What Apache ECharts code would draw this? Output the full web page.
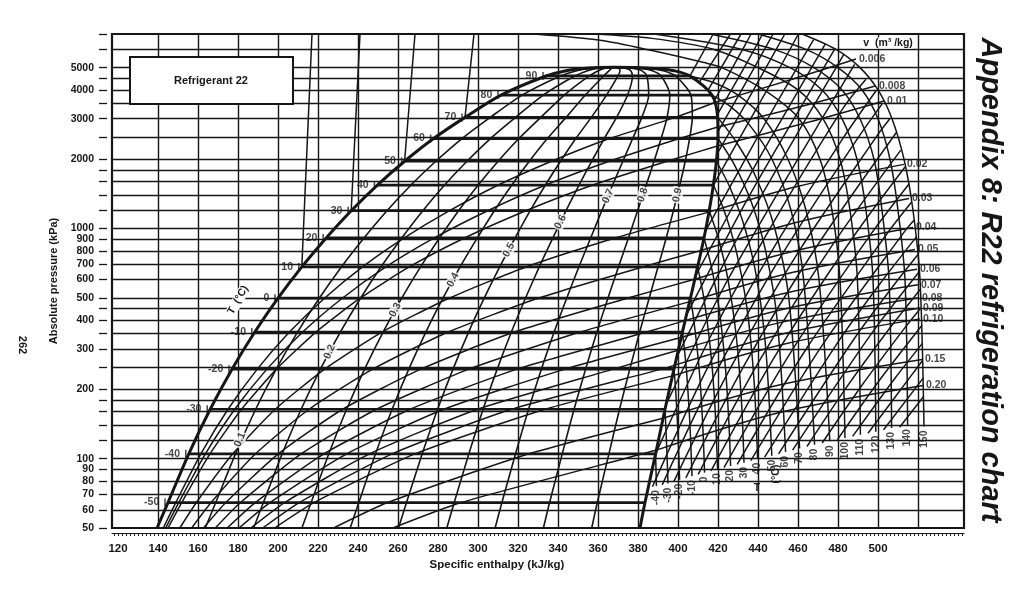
<!DOCTYPE html>
<html>
<head>
<meta charset="utf-8">
<script src="https://cdn.jsdelivr.net/npm/echarts@6/dist/echarts.min.js"></script>
<style>
html, body { margin: 0; padding: 0; background: #fff; }
#main { width: 1024px; height: 600px; }
</style>
</head>
<body>
<div id="main"></div>
<script>
// saturation table
var satT  = [-54.6, -50, -40, -30, -20, -10, 0, 10, 20, 30, 40, 50, 60, 70, 80, 90, 93, 95, 96];
var satP  = [50, 64.5, 105, 164, 245, 355, 498, 681, 910, 1195, 1545, 1960, 2460, 3040, 3800, 4600, 4850, 4950, 5020];
var satHf = [139.5, 145.0, 155.4, 166.1, 177.0, 188.4, 200.0, 211.9, 224.1, 236.6, 249.7, 263.3, 277.8, 293.5, 311.5, 334.0, 344.0, 351.0, 368.0];
var satHg = [381.0, 383.5, 388.8, 393.5, 398.0, 402.2, 406.2, 409.8, 413.0, 415.6, 417.7, 419.2, 420.0, 419.8, 417.0, 406.0, 398.0, 390.0, 368.0];
var satVf = [0.000687, 0.000695, 0.000709, 0.000725, 0.000743, 0.000762, 0.000778, 0.000800, 0.000824, 0.000851, 0.000883, 0.000922, 0.000970, 0.00103, 0.00112, 0.00127, 0.00136, 0.00147, 0.00195];
var satVg = [0.409, 0.325, 0.2056, 0.1355, 0.0926, 0.0654, 0.0471, 0.0347, 0.0259, 0.0196, 0.0151, 0.0117, 0.0091, 0.0070, 0.0054, 0.0040, 0.0033, 0.0028, 0.00195];

var domeIsoT = [-50, -40, -30, -20, -10, 0, 10, 20, 30, 40, 50, 60, 70, 80, 90];

var qualityX = [0.1, 0.2, 0.3, 0.4, 0.5, 0.6, 0.7, 0.8, 0.9];
var qualityLabelH = [181, 225.8, 258.6, 287.5, 315.4, 341.3, 365, 382.4, 399.7];
var qualityLabelP = [121, 291, 443, 598, 807, 1068, 1384, 1398, 1398];
var qualityLabelRot = [67, 65, 63, 62, 62, 63, 66, 72, 78];

// liquid-side isotherms
var liqT = [10, 30, 50, 70];
var liqTopH = [217, 241, 268.5, 298];

// constant specific volume, superheated part [h, P]
var volV = [0.006, 0.008, 0.01, 0.02, 0.03, 0.04, 0.05, 0.06, 0.07, 0.08, 0.09, 0.10, 0.15, 0.20];
var volLabel = ['0.006', '0.008', '0.01', '0.02', '0.03', '0.04', '0.05', '0.06', '0.07', '0.08', '0.09', '0.10', '0.15', '0.20'];
var volPts = [
  [[418.0, 3520], [455.9, 4420], [489, 5450]],
  [[419.9, 2760], [463.9, 3430], [499, 4170]],
  [[419.7, 2285], [465.5, 2900], [503, 3580]],
  [[415.4, 1178], [460.1, 1526], [513, 1900]],
  [[411.5, 802], [460.0, 1067], [515.5, 1350]],
  [[408.3, 602], [458.8, 801], [517.5, 1010]],
  [[405.5, 480], [456.5, 642], [518.5, 810]],
  [[403.4, 398], [456.1, 530], [519.5, 665]],
  [[401.4, 336], [455.4, 452], [520, 570]],
  [[400.0, 296], [454.9, 397], [520.5, 500]],
  [[398.4, 255], [454.2, 352], [521, 452]],
  [[397.2, 229], [453.8, 316], [521, 405]],
  [[392.5, 150], [451.6, 210], [522, 270]],
  [[389.2, 109], [449.8, 158], [522.5, 208]]
];

// superheated isotherms [h, P] (saturation point added from the table)
var isoT = [-40, -30, -20, -10, 0, 10, 20, 30, 40, 50, 60, 70, 80, 90, 100, 110, 120, 130, 140, 150];
var isoPts = [
  [[389.2, 76]],
  [[394.4, 110], [395.0, 78]],
  [[398.8, 200], [399.6, 150], [400.3, 110], [400.8, 81]],
  [[404.1, 250], [405.8, 150], [406.5, 110], [407.0, 84]],
  [[407.9, 400], [410.5, 250], [412.2, 150], [413.3, 87]],
  [[412.9, 500], [416.2, 300], [418.3, 180], [419.8, 90]],
  [[416.4, 700], [420.5, 450], [423.7, 250], [425.5, 140], [426.3, 93]],
  [[420.3, 900], [425.0, 600], [429.0, 350], [431.7, 180], [433.0, 96]],
  [[423.0, 1200], [429.1, 800], [434.5, 450], [438.0, 220], [439.8, 100]],
  [[426.1, 1500], [433.5, 1000], [439.5, 600], [443.9, 300], [446.9, 103]],
  [[428.1, 1900], [436.7, 1300], [443.8, 800], [449.6, 400], [453.8, 107]],
  [[428.8, 2400], [438.6, 1700], [448.4, 1000], [455.4, 500], [460.8, 111]],
  [[426, 3400], [436, 2800], [447, 2000], [456.5, 1200], [462.8, 600], [468.3, 115]],
  [[418, 4300], [430, 3800], [443, 3000], [455, 2000], [464, 1200], [470.5, 600], [475.9, 119]],
  [[328, 7000], [362, 6560], [387, 5930], [413, 5260], [422, 5000], [443, 4000], [460.5, 3000], [471, 2000], [477, 1200], [481, 600], [483.5, 123]],
  [[358, 7000], [387, 6700], [418, 6000], [440, 5000], [460, 4000], [472.5, 3000], [481, 2000], [486, 1200], [489.7, 600], [491.2, 127]],
  [[388, 7000], [432, 6000], [456, 5000], [472, 4000], [482, 3000], [489.5, 2000], [494, 1200], [497.5, 600], [498.9, 131]],
  [[416, 7000], [448, 6000], [468, 5000], [482, 4000], [491, 3000], [498, 2000], [502, 1200], [505.5, 600], [506.8, 136]],
  [[440, 7000], [464, 6000], [480, 5000], [492, 4000], [500, 3000], [506, 2000], [510, 1200], [513.5, 600], [514.8, 140]],
  [[462, 7000], [479, 6000], [491, 5000], [500, 4000], [507, 3000], [513, 2000], [517.5, 1200], [521, 600], [523, 138]]
];

// isentropes [h, P]
var isenPts = [
  [[387.2, 75.5], [413.8, 239], [445.2, 755], [481.4, 2387], [499.2, 3990]],
  [[392.1, 77], [419.6, 243], [452.0, 770], [489.4, 2433], [502.1, 3480]],
  [[397.9, 79.5], [426.6, 251], [460.4, 795], [499.3, 2513], [505.8, 2990]],
  [[403.9, 82.5], [433.8, 261], [468.9, 825], [509.3, 2620]],
  [[410.1, 85.5], [441.1, 270], [477.5, 855], [511.4, 2190]],
  [[416.5, 88.5], [448.6, 280], [486.3, 885], [513.5, 1850]],
  [[423.0, 91.5], [456.3, 289], [495.3, 915], [515.5, 1560]],
  [[429.6, 94.5], [464.0, 299], [504.3, 944], [516.7, 1300]],
  [[436.4, 98], [472.0, 310], [513.6, 979], [518.1, 1090]],
  [[443.3, 101.5], [480.0, 321], [500.7, 571], [519.2, 920]],
  [[450.3, 105], [488.1, 332], [509.4, 590], [519.9, 770]],
  [[457.3, 109], [496.3, 345], [520.7, 650]],
  [[464.5, 113], [483.7, 201], [504.6, 357], [521.2, 545]],
  [[472.1, 117], [491.9, 208], [513.4, 370], [521.5, 453]],
  [[479.7, 121], [500.0, 215], [522.0, 380]],
  [[487.3, 125], [508.2, 222], [522.2, 317]],
  [[495.0, 129], [516.5, 229], [522.3, 267]],
  [[502.8, 133.5], [522.6, 224]],
  [[510.8, 137], [522.7, 186]],
  [[388.8, 105], [415.7, 332], [447.4, 1050], [482.4, 3318], [494.0, 4450]],
  [[393.8, 170], [422.0, 538], [455.1, 1700], [472.2, 3022], [488.3, 5160]],
  [[399.0, 272], [428.2, 860], [461.1, 2719], [478.1, 4835], [482.8, 5700]],
  [[403.9, 415], [434.1, 1312], [467.5, 4149], [478.5, 6050]],
  [[408.6, 620], [439.8, 1961], [456.4, 3487], [473.6, 6330]],
  [[413.6, 970], [445.5, 3067], [462.1, 5454], [467.8, 6620]],
  [[417.7, 1545], [433.8, 2747], [450.3, 4886], [460.2, 7000]],
  [[419.4, 2100], [435.8, 3734], [453.4, 7000]],
  [[420.0, 2640], [436.4, 4694], [447.5, 7000]],
  [[419.5, 3110], [435.9, 5530], [442.3, 7000]],
  [[417.9, 3560], [433.8, 6331], [436.5, 7000]],
  [[414.8, 3960], [431.5, 7000]],
  [[410.4, 4280], [426.2, 7000]],
  [[406.0, 4600], [417.6, 7000]]
];

// axes
var xLabelVals = [120, 140, 160, 180, 200, 220, 240, 260, 280, 300, 320, 340, 360, 380, 400, 420, 440, 460, 480, 500];
var gridH = [140, 160, 180, 200, 220, 240, 260, 280, 300, 320, 340, 360, 380, 400, 420, 440, 460, 480, 500, 520];
var gridP = [60, 70, 80, 90, 100, 120, 140, 160, 180, 200, 250, 300, 350, 400, 450, 500, 600, 700, 800, 900, 1000, 1200, 1400, 1600, 1800, 2000, 2500, 3000, 3500, 4000, 4500, 5000, 6000];
var yLabelVals = [50, 60, 70, 80, 90, 100, 200, 300, 400, 500, 600, 700, 800, 900, 1000, 2000, 3000, 4000, 5000];

var ink = '#161616';
var font = '"Liberation Sans", Arial, Helvetica, sans-serif';

var rulerTicks = [];
for (var r = 118; r <= 542; r += 2) rulerTicks.push(r);
var yTickVals = [50].concat(gridP, [7000]);

function lineSeries(data, width, smooth, z) {
  return {
    type: 'line', data: data, symbol: 'none', showSymbol: false, smooth: smooth,
    silent: true, z: z || 2, animation: false,
    lineStyle: { color: ink, width: width }
  };
}

var series = [];

// grid
series.push({
  type: 'line', data: [], silent: true, z: 1,
  markLine: {
    silent: true, symbol: ['none', 'none'], animation: false, label: { show: false },
    lineStyle: { color: ink, width: 1.4, type: 'solid' },
    data: gridP.map(function (p) { return { yAxis: p }; })
      .concat(gridH.map(function (h) { return { xAxis: h }; }))
  }
});

// quality lines
qualityX.forEach(function (x) {
  series.push(lineSeries(satT.map(function (t, i) {
    return [satHf[i] + x * (satHg[i] - satHf[i]), satP[i]];
  }), 1.6, 0.25, 2));
});

// volume lines: wet part then superheated part
volV.forEach(function (v, k) {
  var wet = [];
  for (var i = 0; i < satT.length; i++) {
    if (satVg[i] <= v) break;
    var x = (v - satVf[i]) / (satVg[i] - satVf[i]);
    wet.push([satHf[i] + x * (satHg[i] - satHf[i]), satP[i]]);
  }
  wet.push(volPts[k][0]);
  series.push(lineSeries(wet, 1.5, 0.2, 2));
  series.push(lineSeries(volPts[k], 1.5, 0.3, 2));
});

// superheated isotherms
isoT.forEach(function (t, k) {
  var pts = isoPts[k].slice();
  var i = satT.indexOf(t);
  if (i >= 0) pts.unshift([satHg[i], satP[i]]);
  series.push(lineSeries(pts, 1.5, 0.3, 2));
});

// isentropes
isenPts.forEach(function (p) { series.push(lineSeries(p, 1.5, 0.3, 2)); });

// liquid isotherms
liqT.forEach(function (t, k) {
  var i = satT.indexOf(t);
  series.push(lineSeries([[satHf[i], satP[i]], [liqTopH[k], 7000]], 1.5, false, 2));
});

// isotherms inside the dome
domeIsoT.forEach(function (t) {
  var i = satT.indexOf(t);
  series.push(lineSeries([[satHf[i], satP[i]], [satHg[i], satP[i]]], 2.7, false, 3));
});

// saturation dome
var dome = satT.map(function (t, i) { return [satHf[i], satP[i]]; })
  .concat(satT.slice(0, -1).map(function (t, i) { return [satHg[i], satP[i]]; }).reverse());
series.push(lineSeries(dome, 3, 0.3, 4));

var lab = { show: true, color: ink, fontSize: 10.5, fontWeight: 'bold', fontFamily: font, formatter: '{b}' };

// temperature labels on the liquid line
series.push({
  type: 'scatter', silent: true, z: 6, symbol: 'rect', symbolSize: [1.5, 8], symbolOffset: [-3, 0],
  itemStyle: { color: ink }, animation: false,
  data: domeIsoT.map(function (t) {
    var i = satT.indexOf(t);
    return { value: [satHf[i], satP[i]], name: String(t) };
  }),
  label: Object.assign({}, lab, { position: 'left', distance: 5 })
});

// temperature labels at the low-pressure end of the superheated isotherms
series.push({
  type: 'scatter', silent: true, z: 6, symbolSize: 0, animation: false,
  data: isoT.map(function (t, k) {
    return { value: isoPts[k][isoPts[k].length - 1], name: String(t) };
  }),
  label: Object.assign({}, lab, { position: [0, 0], rotate: 90, align: 'right', verticalAlign: 'middle', padding: [0, 4, 0, 0] })
});

// volume labels
series.push({
  type: 'scatter', silent: true, z: 6, symbolSize: 0, animation: false,
  data: volPts.map(function (p, k) { return { value: p[p.length - 1], name: volLabel[k] }; }),
  label: Object.assign({}, lab, { position: 'right', distance: 3 })
});

// quality labels
series.push({
  type: 'scatter', silent: true, z: 6, symbolSize: 0, animation: false,
  data: qualityX.map(function (x, k) {
    return { value: [qualityLabelH[k], qualityLabelP[k]], name: String(x), label: { rotate: qualityLabelRot[k] } };
  }),
  label: Object.assign({}, lab, { position: [0, 0], align: 'center', verticalAlign: 'middle', backgroundColor: '#fff', padding: [0, 1] })
});

var chart = echarts.init(document.getElementById('main'), null, { renderer: 'canvas' });
chart.setOption({
  animation: false,
  backgroundColor: '#fff',
  grid: { left: 112, right: 60, top: 34, bottom: 72, show: true, borderColor: ink, borderWidth: 2.2, backgroundColor: 'transparent' },
  xAxis: {
    type: 'value', min: 117, max: 543, offset: 5,
    axisLine: { show: true, onZero: false, lineStyle: { color: ink, width: 1 } },
    axisTick: { show: true, length: 3, customValues: rulerTicks, lineStyle: { color: ink, width: 1 } },
    axisLabel: { customValues: xLabelVals, color: ink, fontSize: 11.5, fontWeight: 'bold', fontFamily: font, margin: 10 },
    splitLine: { show: false }
  },
  yAxis: {
    type: 'log', logBase: 10, min: 50, max: 7000, offset: 5,
    axisLine: { show: false },
    axisTick: { show: true, length: 8, customValues: yTickVals, lineStyle: { color: ink, width: 1.3 } },
    axisLabel: {
      customValues: yLabelVals, color: ink, fontSize: 10.5, fontWeight: 'bold', fontFamily: font, margin: 13,
      formatter: function (v) { return String(Math.round(v)); }
    },
    splitLine: { show: false },
    name: 'Absolute pressure (kPa)', nameLocation: 'middle', nameGap: 41,
    nameTextStyle: { color: ink, fontSize: 11, fontWeight: 'bold', fontFamily: font }
  },
  graphic: [
    { type: 'rect', z: 100, shape: { x: 130, y: 57, width: 163, height: 47 }, style: { fill: '#fff', stroke: ink, lineWidth: 2 } },
    { type: 'text', z: 101, x: 211, y: 81, style: { text: 'Refrigerant 22', font: 'bold 11px ' + font, fill: ink, align: 'center', verticalAlign: 'middle' } },
    { type: 'text', z: 101, x: 497, y: 565, style: { text: 'Specific enthalpy (kJ/kg)', font: 'bold 11.5px ' + font, fill: ink, align: 'center', verticalAlign: 'middle' } },
    { type: 'text', z: 101, x: 990, y: 280, rotation: -Math.PI / 2, style: { text: 'Appendix 8: R22 refrigeration chart', font: 'italic bold 29px ' + font, fill: ink, align: 'center', verticalAlign: 'middle' } },
    { type: 'text', z: 101, x: 22, y: 345, rotation: -Math.PI / 2, style: { text: '262', font: 'bold 11px ' + font, fill: ink, align: 'center', verticalAlign: 'middle' } },
    { type: 'text', z: 101, x: 888, y: 43, style: { text: 'v  (m\u00b3 /kg)', font: 'bold 10.5px ' + font, fill: ink, align: 'center', verticalAlign: 'middle', backgroundColor: '#fff' } },
    { type: 'text', z: 101, x: 238, y: 300, rotation: Math.PI / 3, style: { text: 'T  (\u00b0C)', font: 'bold 10.5px ' + font, fill: ink, align: 'center', verticalAlign: 'middle', backgroundColor: '#fff' } },
    { type: 'text', z: 101, x: 757, y: 488, style: { text: 'T', font: 'bold 10.5px ' + font, fill: ink, align: 'center', verticalAlign: 'middle' } },
    { type: 'text', z: 101, x: 776, y: 474, rotation: Math.PI / 2, style: { text: '(\u00b0C)', font: 'bold 10.5px ' + font, fill: ink, align: 'center', verticalAlign: 'middle' } }
  ],
  series: series
});
</script>
</body>
</html>
